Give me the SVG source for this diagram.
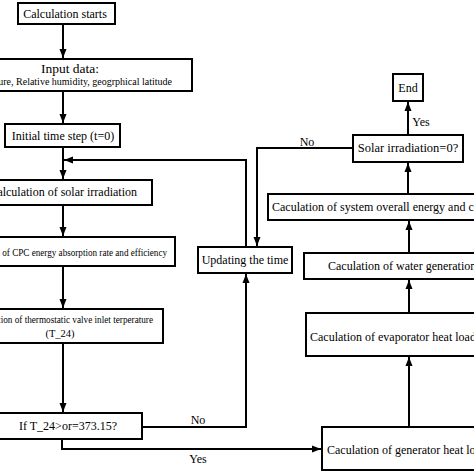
<svg xmlns="http://www.w3.org/2000/svg" width="474" height="474" viewBox="0 0 474 474">
<defs>
<marker id="ah" markerUnits="userSpaceOnUse" markerWidth="10" markerHeight="8" refX="9" refY="4" orient="auto">
<path d="M0,0.5 L9,4 L0,7.5 Z" fill="#000"/>
</marker>
<style>
.box{fill:#fff;stroke:#000;stroke-width:2}
.ln{fill:none;stroke:#000;stroke-width:2}
.t{font-family:"Liberation Serif","Times New Roman",serif;fill:#000;font-size:12px}
.c{text-anchor:middle}
.e{text-anchor:end}
</style>
</defs>
<rect width="474" height="474" fill="#fff"/>
<g id="connectors">
<path class="ln" d="M63,24 V58" marker-end="url(#ah)"/>
<path class="ln" d="M63,91 V123" marker-end="url(#ah)"/>
<path class="ln" d="M63,147 V179" marker-end="url(#ah)"/>
<path class="ln" d="M246,247 V160 H64" marker-end="url(#ah)"/>
<path class="ln" d="M63,205 V236" marker-end="url(#ah)"/>
<path class="ln" d="M63,266 V308" marker-end="url(#ah)"/>
<path class="ln" d="M63,343 V412" marker-end="url(#ah)"/>
<path class="ln" d="M142,427 H246 V274" marker-end="url(#ah)"/>
<path class="ln" d="M62,439 V449 H321" marker-end="url(#ah)"/>
<path class="ln" d="M409,427 V357" marker-end="url(#ah)"/>
<path class="ln" d="M409,313 V280" marker-end="url(#ah)"/>
<path class="ln" d="M409,253 V221" marker-end="url(#ah)"/>
<path class="ln" d="M408,194 V163" marker-end="url(#ah)"/>
<path class="ln" d="M408,135 V102" marker-end="url(#ah)"/>
<path class="ln" d="M353,148 H257 V246" marker-end="url(#ah)"/>
<text class="t c" x="198" y="424">No</text>
<text class="t c" x="198" y="463">Yes</text>
<text class="t c" x="307" y="146">No</text>
<text class="t c" x="421" y="126">Yes</text>
</g>
<g id="start">
<rect class="box" x="18" y="3" width="97" height="21"/>
<text class="t c" x="65" y="18">Calculation starts</text>
</g>
<g id="input">
<rect class="box" x="-70" y="59" width="262" height="32"/>
<text class="t c" x="70" y="72.5" style="font-size:13.5px">Input data:</text>
<text class="t e" x="172" y="84.5" style="font-size:10px">Air temperature, Relative humidity, geogrphical latitude</text>
</g>
<g id="initial">
<rect class="box" x="5" y="124" width="115" height="23"/>
<text class="t c" x="63" y="140">Initial time step (t=0)</text>
</g>
<g id="solar">
<rect class="box" x="-10" y="180" width="162" height="25"/>
<text class="t e" x="137" y="196">Calculation of solar irradiation</text>
</g>
<g id="cpc">
<rect class="box" x="-10" y="237" width="185" height="29"/>
<text class="t" x="-42" y="256" style="font-size:10.5px" textLength="209" lengthAdjust="spacingAndGlyphs">Calculation of CPC energy absorption rate and efficiency</text>
</g>
<g id="thermo">
<rect class="box" x="-10" y="309" width="173" height="34"/>
<text class="t" x="-30" y="323" style="font-size:10.5px" textLength="183" lengthAdjust="spacingAndGlyphs">Calculation of thermostatic valve inlet terperature</text>
<text class="t c" x="60" y="337" style="font-size:10.5px">(T_24)</text>
</g>
<g id="decision1">
<rect class="box" x="-10" y="413" width="152" height="26"/>
<text class="t c" x="68" y="430">If T_24&gt;or=373.15?</text>
</g>
<g id="updating">
<rect class="box" x="198" y="247" width="94" height="26"/>
<text class="t c" x="245" y="264">Updating the time</text>
</g>
<g id="generator">
<rect class="box" x="322" y="427" width="160" height="43"/>
<text class="t" x="327" y="454">Caculation of generator heat load</text>
</g>
<g id="evaporator">
<rect class="box" x="306" y="313" width="180" height="43"/>
<text class="t" x="310" y="341">Caculation of evaporator heat load</text>
</g>
<g id="water">
<rect class="box" x="304" y="253" width="180" height="26"/>
<text class="t" x="328" y="270">Caculation of water generation</text>
</g>
<g id="system">
<rect class="box" x="268" y="194" width="220" height="26"/>
<text class="t" x="272" y="211">Caculation of system overall energy and cost</text>
</g>
<g id="decision2">
<rect class="box" x="353" y="135" width="110" height="27"/>
<text class="t c" x="408" y="152" style="font-size:12.5px">Solar irradiation=0?</text>
</g>
<g id="end">
<rect class="box" x="393" y="74" width="30" height="27"/>
<text class="t c" x="408" y="92">End</text>
</g>
</svg>
